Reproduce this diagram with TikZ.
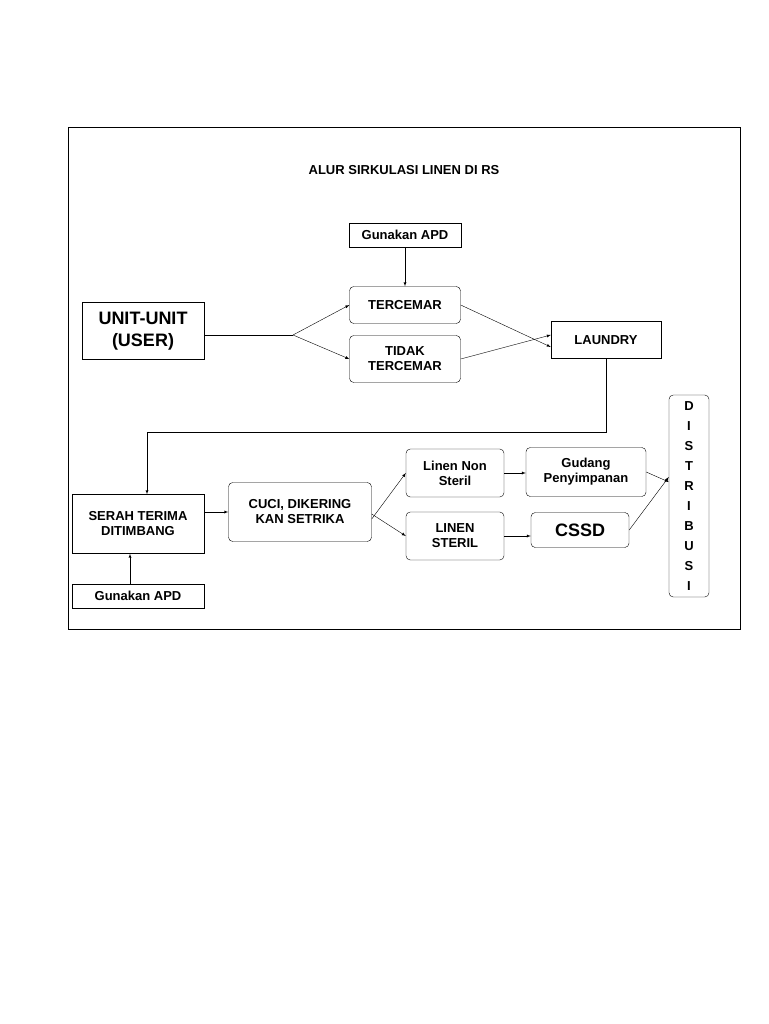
\documentclass[tikz,border=0pt]{standalone}
\usepackage{fontspec}
\setmainfont{Liberation Sans}
\usetikzlibrary{positioning,arrows}
\tikzset{
    box/.style={
        rectangle,
        draw=black,
        align=center,
        font=\fontsize{13}{15}\selectfont\bfseries,
        inner sep=0pt,
    },
    rbox/.style={
        box,
        rounded corners=1.5mm,
    },
    connector/.style={
        ->,
        >=latex,
    },
}
\begin{document}
\begin{tikzpicture}[x=1pt,y=-1pt]
    \useasboundingbox (0,0) rectangle (768,1024);
    \node[draw,minimum width=672,minimum height=502,inner sep=0pt](frame) at (404,378) {};
    \node[font=\fontsize{13}{15}\selectfont\bfseries](title) at (404,170) {ALUR SIRKULASI LINEN DI RS};

    \node[box,minimum width=112,minimum height=24](apd1) at (405,235) {Gunakan APD};
    \node[rbox,minimum width=111,minimum height=37](tc) at (405,305) {TERCEMAR};
    \node[rbox,minimum width=111,minimum height=47](ttc) at (405,359) {TIDAK\\TERCEMAR};
    \node[box,minimum width=122,minimum height=57,font=\fontsize{18}{22}\selectfont\bfseries](user) at (143,331) {UNIT-UNIT\\(USER)};
    \coordinate(split) at (293,335);
    \node[box,minimum width=110,minimum height=37](laundry) at (606,340) {LAUNDRY};

    \node[box,minimum width=132,minimum height=59](serah) at (138,524) {SERAH TERIMA\\DITIMBANG};
    \node[box,minimum width=132,minimum height=24](apd2) at (138,596) {Gunakan APD};
    \node[rbox,minimum width=143,minimum height=59](cuci) at (300,512) {CUCI, DIKERING\\KAN SETRIKA};
    \node[rbox,minimum width=98,minimum height=48](nonsteril) at (455,473) {Linen Non\\Steril};
    \node[rbox,minimum width=98,minimum height=48](steril) at (455,536) {LINEN\\STERIL};
    \node[rbox,minimum width=120,minimum height=49](gudang) at (586,472) {Gudang\\Penyimpanan};
    \node[rbox,minimum width=98,minimum height=35,font=\fontsize{18}{22}\selectfont\bfseries](cssd) at (580,530) {CSSD};
    \node[rbox,minimum width=40,minimum height=202,font=\fontsize{13}{20}\selectfont\bfseries](distribusi) at (689,496) {D\\I\\S\\T\\R\\I\\B\\U\\S\\I};

    % atas
    \draw[connector] (apd1) -- (tc);
    \draw (user.east |- split) -- (split);
    \draw[connector] (split) -- (tc.west);
    \draw[connector] (split) -- (ttc.west);
    \draw[connector] (tc.east) -- ([yshift=-7]laundry.west);
    \draw[connector] (ttc.east) -- ([yshift=5]laundry.west);

    % bawah
    \draw[connector] (laundry.south) -- ++(0,73) -| ([xshift=9]serah.north);
    \draw[connector] ([xshift=-8]apd2.north) -- ([xshift=-8]serah.south);
    \draw[connector] (serah.east |- cuci) -- (cuci.west);
    \draw[connector] ([yshift=-7]cuci.east) -- (nonsteril.west);
    \draw[connector] ([yshift=-2]cuci.east) -- (steril.west);
    \draw[connector] (nonsteril.east) -- (gudang.west |- nonsteril);
    \draw[connector] (steril.east) -- (cssd.west |- steril);
    \draw[connector] (gudang.east) -- ([yshift=14]distribusi.west);
    \draw[connector] (cssd.east) -- ([yshift=19]distribusi.west);
\end{tikzpicture}
\end{document}
